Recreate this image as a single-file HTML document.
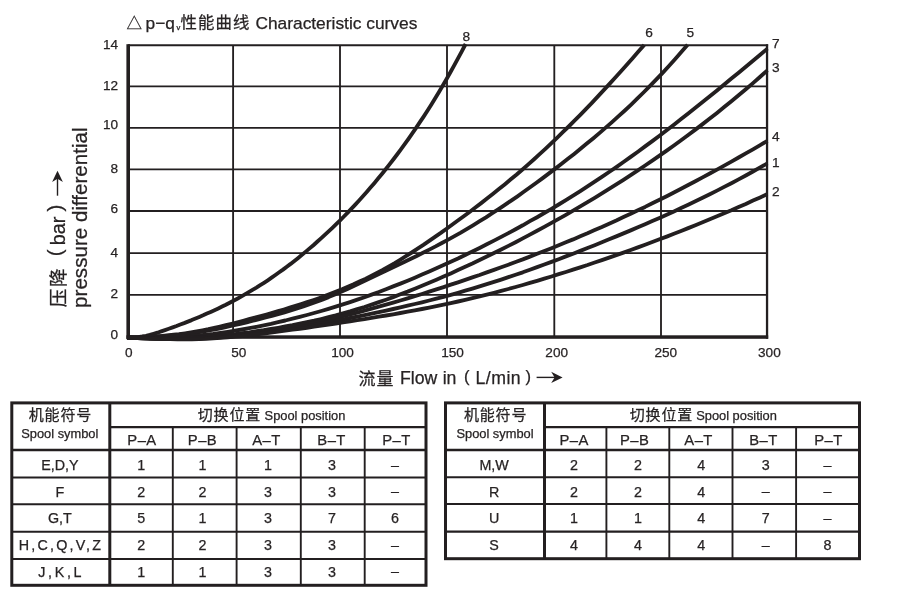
<!DOCTYPE html>
<html lang="zh"><head><meta charset="utf-8"><title>Characteristic curves</title>
<style>html,body{margin:0;padding:0;background:#fff;}body{width:900px;height:594px;overflow:hidden;}svg{display:block;will-change:transform;}text{font-family:"Liberation Sans","Noto Sans CJK SC",sans-serif;fill:#272324;stroke:#272324;stroke-width:.25px;}.cjk{font-family:"Liberation Sans","Noto Sans CJK SC",sans-serif;}</style></head><body>
<svg width="900" height="594" viewBox="0 0 900 594">
<rect width="900" height="594" fill="#fff"/>
<g stroke="#231f20" stroke-width="1.85" fill="none">
<line x1="233.1" y1="45" x2="233.1" y2="337"/>
<line x1="340.0" y1="45" x2="340.0" y2="337"/>
<line x1="447.0" y1="45" x2="447.0" y2="337"/>
<line x1="554.3" y1="45" x2="554.3" y2="337"/>
<line x1="661.0" y1="45" x2="661.0" y2="337"/>
<line x1="128" y1="86.3" x2="767" y2="86.3"/>
<line x1="128" y1="127.85" x2="767" y2="127.85"/>
<line x1="128" y1="169.3" x2="767" y2="169.3"/>
<line x1="128" y1="211.0" x2="767" y2="211.0"/>
<line x1="128" y1="253.1" x2="767" y2="253.1"/>
<line x1="128" y1="294.9" x2="767" y2="294.9"/>
<line x1="128" y1="45.2" x2="768.1" y2="45.2"/>
<line x1="767.05" y1="44.2" x2="767.05" y2="338.8" stroke-width="2.3"/>
</g>
<rect x="126.4" y="44.2" width="3.6" height="294.6" fill="#231f20"/>
<rect x="126.4" y="335.3" width="641.8" height="3.5" fill="#231f20"/>
<g stroke="#231f20" stroke-width="3.85" fill="none" stroke-linejoin="round">
<path d="M127.0,337.6 L130.8,337.7 L134.6,337.5 L138.4,337.1 L142.2,336.5 L146.0,335.8 L149.8,334.9 L153.6,333.8 L157.4,332.7 L161.2,331.4 L165.0,330.1 L168.8,328.8 L172.7,327.4 L176.5,326.0 L180.3,324.5 L184.1,323.1 L187.9,321.6 L191.7,320.1 L195.5,318.5 L199.3,316.9 L203.1,315.3 L206.9,313.6 L210.7,311.9 L214.5,310.2 L218.3,308.4 L222.1,306.5 L225.9,304.7 L229.7,302.7 L233.5,300.7 L237.3,298.7 L241.1,296.6 L244.9,294.4 L248.7,292.2 L252.5,289.9 L256.4,287.6 L260.2,285.2 L264.0,282.8 L267.8,280.3 L271.6,277.7 L275.4,275.0 L279.2,272.3 L283.0,269.6 L286.8,266.7 L290.6,263.9 L294.4,260.9 L298.2,257.9 L302.0,254.8 L305.8,251.6 L309.6,248.4 L313.4,245.2 L317.2,241.8 L321.0,238.4 L324.8,234.9 L328.6,231.4 L332.4,227.8 L336.2,224.1 L340.1,220.4 L343.9,216.5 L347.7,212.7 L351.5,208.7 L355.3,204.6 L359.1,200.5 L362.9,196.3 L366.7,192.0 L370.5,187.6 L374.3,183.2 L378.1,178.6 L381.9,174.0 L385.7,169.2 L389.5,164.4 L393.3,159.5 L397.1,154.5 L400.9,149.4 L404.7,144.2 L408.5,138.8 L412.3,133.4 L416.1,127.8 L419.9,122.2 L423.8,116.4 L427.6,110.5 L431.4,104.5 L435.2,98.3 L439.0,92.0 L442.8,85.6 L446.6,79.0 L450.4,72.3 L454.2,65.4 L458.0,58.4 L461.8,51.3 L465.6,44.0"/>
<path d="M127.0,337.6 L132.8,337.5 L138.6,337.3 L144.4,337.0 L150.2,336.7 L156.1,336.3 L161.9,335.9 L167.7,335.3 L173.5,334.7 L179.3,334.1 L185.1,333.3 L190.9,332.4 L196.7,331.4 L202.5,330.3 L208.4,329.2 L214.2,327.9 L220.0,326.6 L225.8,325.2 L231.6,323.8 L237.4,322.3 L243.2,320.8 L249.0,319.2 L254.8,317.7 L260.7,316.1 L266.5,314.5 L272.3,312.9 L278.1,311.2 L283.9,309.5 L289.7,307.7 L295.5,305.9 L301.3,304.1 L307.1,302.2 L313.0,300.2 L318.8,298.2 L324.6,296.1 L330.4,293.9 L336.2,291.6 L342.0,289.3 L347.8,286.8 L353.6,284.3 L359.4,281.6 L365.3,278.9 L371.1,276.0 L376.9,273.0 L382.7,269.9 L388.5,266.6 L394.3,263.3 L400.1,259.8 L405.9,256.2 L411.8,252.5 L417.6,248.7 L423.4,244.9 L429.2,240.9 L435.0,236.9 L440.8,232.9 L446.6,228.7 L452.4,224.5 L458.2,220.3 L464.1,216.0 L469.9,211.7 L475.7,207.3 L481.5,202.9 L487.3,198.3 L493.1,193.8 L498.9,189.1 L504.7,184.4 L510.5,179.5 L516.4,174.7 L522.2,169.7 L528.0,164.6 L533.8,159.5 L539.6,154.2 L545.4,148.9 L551.2,143.4 L557.0,137.9 L562.8,132.2 L568.7,126.5 L574.5,120.7 L580.3,114.8 L586.1,108.8 L591.9,102.8 L597.7,96.6 L603.5,90.4 L609.3,84.1 L615.1,77.8 L621.0,71.3 L626.8,64.8 L632.6,58.2 L638.4,51.6 L644.2,44.9"/>
<path d="M127.0,337.6 L133.3,337.5 L139.6,337.3 L145.9,337.0 L152.2,336.7 L158.5,336.4 L164.8,336.0 L171.1,335.5 L177.4,334.9 L183.7,334.2 L190.0,333.5 L196.3,332.6 L202.6,331.6 L208.9,330.4 L215.2,329.3 L221.5,328.0 L227.8,326.6 L234.1,325.2 L240.4,323.8 L246.7,322.3 L253.0,320.7 L259.3,319.2 L265.6,317.5 L271.9,315.9 L278.2,314.2 L284.5,312.4 L290.8,310.5 L297.1,308.5 L303.4,306.5 L309.7,304.3 L316.0,302.0 L322.3,299.6 L328.6,297.1 L334.9,294.4 L341.2,291.7 L347.5,288.9 L353.8,286.0 L360.1,283.0 L366.4,280.0 L372.7,277.0 L379.0,274.0 L385.3,271.0 L391.6,268.0 L397.9,265.0 L404.2,262.0 L410.4,259.0 L416.7,255.9 L423.0,252.8 L429.3,249.6 L435.6,246.4 L441.9,243.0 L448.2,239.6 L454.5,236.1 L460.8,232.6 L467.1,228.9 L473.4,225.1 L479.7,221.2 L486.0,217.3 L492.3,213.2 L498.6,209.1 L504.9,204.9 L511.2,200.6 L517.5,196.3 L523.8,191.8 L530.1,187.3 L536.4,182.8 L542.7,178.1 L549.0,173.4 L555.3,168.6 L561.6,163.8 L567.9,158.8 L574.2,153.9 L580.5,148.8 L586.8,143.6 L593.1,138.4 L599.4,133.1 L605.7,127.6 L612.0,122.1 L618.3,116.4 L624.6,110.7 L630.9,104.8 L637.2,98.7 L643.5,92.5 L649.8,86.2 L656.1,79.7 L662.4,73.1 L668.7,66.3 L675.0,59.3 L681.3,52.1 L687.6,44.8"/>
<path d="M127.0,337.6 L134.2,337.6 L141.4,337.6 L148.6,337.5 L155.8,337.4 L163.0,337.3 L170.2,337.1 L177.4,336.8 L184.6,336.4 L191.8,335.9 L199.0,335.3 L206.2,334.6 L213.3,333.8 L220.5,332.8 L227.7,331.8 L234.9,330.7 L242.1,329.5 L249.3,328.2 L256.5,326.8 L263.7,325.3 L270.9,323.8 L278.1,322.1 L285.3,320.5 L292.5,318.7 L299.7,316.9 L306.9,315.0 L314.1,313.0 L321.3,311.0 L328.5,308.9 L335.7,306.7 L342.9,304.4 L350.1,302.1 L357.3,299.7 L364.5,297.2 L371.6,294.6 L378.8,292.0 L386.0,289.2 L393.2,286.4 L400.4,283.6 L407.6,280.7 L414.8,277.7 L422.0,274.6 L429.2,271.5 L436.4,268.3 L443.6,265.0 L450.8,261.7 L458.0,258.4 L465.2,254.9 L472.4,251.4 L479.6,247.9 L486.8,244.3 L494.0,240.6 L501.2,236.9 L508.4,233.1 L515.6,229.2 L522.8,225.3 L529.9,221.2 L537.1,217.2 L544.3,213.0 L551.5,208.8 L558.7,204.5 L565.9,200.1 L573.1,195.6 L580.3,191.1 L587.5,186.4 L594.7,181.7 L601.9,176.9 L609.1,172.0 L616.3,167.1 L623.5,162.0 L630.7,156.9 L637.9,151.7 L645.1,146.4 L652.3,141.1 L659.5,135.7 L666.7,130.2 L673.9,124.7 L681.1,119.1 L688.2,113.5 L695.4,107.8 L702.6,102.0 L709.8,96.2 L717.0,90.4 L724.2,84.5 L731.4,78.6 L738.6,72.7 L745.8,66.7 L753.0,60.7 L760.2,54.7 L767.4,48.6"/>
<path d="M127.0,337.6 L134.2,337.8 L141.4,338.0 L148.6,338.2 L155.8,338.2 L163.0,338.3 L170.2,338.2 L177.4,338.1 L184.6,337.9 L191.8,337.6 L199.0,337.2 L206.2,336.8 L213.3,336.2 L220.5,335.6 L227.7,334.9 L234.9,334.1 L242.1,333.2 L249.3,332.3 L256.5,331.2 L263.7,330.2 L270.9,329.0 L278.1,327.8 L285.3,326.5 L292.5,325.2 L299.7,323.7 L306.9,322.2 L314.1,320.7 L321.3,319.0 L328.5,317.2 L335.7,315.4 L342.9,313.4 L350.1,311.4 L357.3,309.2 L364.5,307.0 L371.6,304.6 L378.8,302.2 L386.0,299.7 L393.2,297.1 L400.4,294.3 L407.6,291.6 L414.8,288.7 L422.0,285.8 L429.2,282.8 L436.4,279.7 L443.6,276.6 L450.8,273.4 L458.0,270.1 L465.2,266.8 L472.4,263.5 L479.6,260.0 L486.8,256.6 L494.0,253.1 L501.2,249.5 L508.4,245.9 L515.6,242.2 L522.8,238.4 L529.9,234.6 L537.1,230.8 L544.3,226.9 L551.5,222.9 L558.7,218.9 L565.9,214.8 L573.1,210.6 L580.3,206.4 L587.5,202.1 L594.7,197.8 L601.9,193.4 L609.1,188.9 L616.3,184.4 L623.5,179.8 L630.7,175.1 L637.9,170.4 L645.1,165.5 L652.3,160.7 L659.5,155.7 L666.7,150.6 L673.9,145.5 L681.1,140.3 L688.2,135.0 L695.4,129.6 L702.6,124.1 L709.8,118.5 L717.0,112.9 L724.2,107.1 L731.4,101.3 L738.6,95.3 L745.8,89.2 L753.0,83.1 L760.2,76.8 L767.4,70.4"/>
<path d="M127.0,337.5 L134.2,337.9 L141.4,338.2 L148.6,338.4 L155.8,338.5 L163.0,338.6 L170.2,338.5 L177.4,338.4 L184.6,338.3 L191.8,338.0 L199.0,337.7 L206.2,337.4 L213.3,336.9 L220.5,336.4 L227.7,335.8 L234.9,335.2 L242.1,334.5 L249.3,333.7 L256.5,332.8 L263.7,331.8 L270.9,330.8 L278.1,329.7 L285.3,328.5 L292.5,327.2 L299.7,325.8 L306.9,324.4 L314.1,322.9 L321.3,321.3 L328.5,319.7 L335.7,318.0 L342.9,316.2 L350.1,314.4 L357.3,312.6 L364.5,310.7 L371.6,308.7 L378.8,306.7 L386.0,304.7 L393.2,302.6 L400.4,300.5 L407.6,298.4 L414.8,296.2 L422.0,294.0 L429.2,291.7 L436.4,289.4 L443.6,287.1 L450.8,284.7 L458.0,282.3 L465.2,279.9 L472.4,277.4 L479.6,275.0 L486.8,272.4 L494.0,269.9 L501.2,267.3 L508.4,264.7 L515.6,262.0 L522.8,259.4 L529.9,256.6 L537.1,253.8 L544.3,251.0 L551.5,248.2 L558.7,245.3 L565.9,242.3 L573.1,239.4 L580.3,236.3 L587.5,233.3 L594.7,230.1 L601.9,227.0 L609.1,223.7 L616.3,220.5 L623.5,217.1 L630.7,213.8 L637.9,210.3 L645.1,206.9 L652.3,203.3 L659.5,199.8 L666.7,196.2 L673.9,192.5 L681.1,188.8 L688.2,185.0 L695.4,181.2 L702.6,177.4 L709.8,173.5 L717.0,169.6 L724.2,165.6 L731.4,161.6 L738.6,157.5 L745.8,153.4 L753.0,149.3 L760.2,145.1 L767.4,140.8"/>
<path d="M127.0,337.5 L134.2,337.9 L141.4,338.3 L148.6,338.6 L155.8,338.8 L163.0,338.9 L170.2,339.0 L177.4,339.0 L184.6,338.9 L191.8,338.8 L199.0,338.5 L206.2,338.2 L213.3,337.8 L220.5,337.3 L227.7,336.7 L234.9,336.0 L242.1,335.3 L249.3,334.5 L256.5,333.7 L263.7,332.8 L270.9,331.8 L278.1,330.8 L285.3,329.7 L292.5,328.5 L299.7,327.3 L306.9,326.1 L314.1,324.8 L321.3,323.5 L328.5,322.2 L335.7,320.8 L342.9,319.4 L350.1,318.0 L357.3,316.6 L364.5,315.1 L371.6,313.6 L378.8,312.1 L386.0,310.6 L393.2,309.0 L400.4,307.4 L407.6,305.7 L414.8,304.0 L422.0,302.3 L429.2,300.5 L436.4,298.6 L443.6,296.8 L450.8,294.8 L458.0,292.8 L465.2,290.7 L472.4,288.6 L479.6,286.4 L486.8,284.2 L494.0,281.9 L501.2,279.6 L508.4,277.2 L515.6,274.7 L522.8,272.3 L529.9,269.7 L537.1,267.1 L544.3,264.5 L551.5,261.9 L558.7,259.2 L565.9,256.4 L573.1,253.7 L580.3,250.9 L587.5,248.0 L594.7,245.2 L601.9,242.3 L609.1,239.3 L616.3,236.4 L623.5,233.4 L630.7,230.4 L637.9,227.3 L645.1,224.2 L652.3,221.1 L659.5,217.9 L666.7,214.7 L673.9,211.4 L681.1,208.1 L688.2,204.7 L695.4,201.3 L702.6,197.8 L709.8,194.2 L717.0,190.6 L724.2,186.9 L731.4,183.2 L738.6,179.4 L745.8,175.5 L753.0,171.5 L760.2,167.4 L767.4,163.3"/>
<path d="M127.0,337.5 L134.2,337.9 L141.4,338.3 L148.6,338.6 L155.8,338.8 L163.0,339.1 L170.2,339.2 L177.4,339.3 L184.6,339.3 L191.8,339.3 L199.0,339.1 L206.2,338.8 L213.3,338.4 L220.5,337.9 L227.7,337.3 L234.9,336.7 L242.1,336.0 L249.3,335.2 L256.5,334.4 L263.7,333.5 L270.9,332.6 L278.1,331.7 L285.3,330.7 L292.5,329.7 L299.7,328.8 L306.9,327.8 L314.1,326.7 L321.3,325.7 L328.5,324.6 L335.7,323.5 L342.9,322.4 L350.1,321.3 L357.3,320.2 L364.5,319.1 L371.6,317.9 L378.8,316.7 L386.0,315.5 L393.2,314.3 L400.4,313.0 L407.6,311.7 L414.8,310.4 L422.0,309.0 L429.2,307.6 L436.4,306.1 L443.6,304.6 L450.8,303.1 L458.0,301.5 L465.2,299.9 L472.4,298.2 L479.6,296.4 L486.8,294.6 L494.0,292.8 L501.2,290.9 L508.4,289.0 L515.6,287.0 L522.8,285.0 L529.9,282.9 L537.1,280.8 L544.3,278.7 L551.5,276.5 L558.7,274.2 L565.9,272.0 L573.1,269.7 L580.3,267.3 L587.5,265.0 L594.7,262.5 L601.9,260.1 L609.1,257.6 L616.3,255.1 L623.5,252.6 L630.7,250.0 L637.9,247.4 L645.1,244.7 L652.3,242.0 L659.5,239.3 L666.7,236.6 L673.9,233.8 L681.1,231.0 L688.2,228.1 L695.4,225.2 L702.6,222.3 L709.8,219.3 L717.0,216.3 L724.2,213.2 L731.4,210.2 L738.6,207.0 L745.8,203.9 L753.0,200.6 L760.2,197.4 L767.4,194.1"/>
</g>
<g font-size="13.6" text-anchor="end">
<text x="118.0" y="49.15">14</text>
<text x="118.0" y="90.25">12</text>
<text x="118.0" y="128.75">10</text>
<text x="118.0" y="172.55">8</text>
<text x="118.0" y="212.95">6</text>
<text x="118.0" y="257.25">4</text>
<text x="118.0" y="297.65">2</text>
<text x="118.0" y="339.05">0</text>
</g>
<g font-size="13.6" text-anchor="middle">
<text x="128.8" y="357.2">0</text>
<text x="238.8" y="357.2">50</text>
<text x="342.5" y="357.2">100</text>
<text x="452.5" y="357.2">150</text>
<text x="556.7" y="357.2">200</text>
<text x="665.8" y="357.2">250</text>
<text x="769.4" y="357.2">300</text>
</g>
<g font-size="13.7" text-anchor="middle">
<text x="466.3" y="40.5">8</text>
<text x="649" y="37">6</text>
<text x="690.3" y="37">5</text>
<text x="775.8" y="48">7</text>
<text x="775.9" y="71.6">3</text>
<text x="775.9" y="140.5">4</text>
<text x="775.9" y="166.7">1</text>
<text x="775.9" y="195.8">2</text>
</g>
<text x="126.6" y="28.6" font-size="15.5" class="cjk" stroke="#272324" stroke-width="0.85">△</text>
<text x="145.6" y="28.5" font-size="17.3">p−q</text>
<text x="176.4" y="29.8" font-size="7.6">v</text>
<text x="180.6" y="28.2" font-size="16.4" class="cjk" letter-spacing="1.1">性能曲线</text>
<text x="255.4" y="28.5" font-size="17.35">Characteristic curves</text>
<text x="358.6" y="384.5" font-size="17" class="cjk" letter-spacing="1.0">流量</text>
<text x="400.0" y="383.8" font-size="17.7" word-spacing="0.4">Flow in</text>
<text x="464.0" y="381.9" font-size="16.6">(</text>
<text x="475.4" y="383.8" font-size="17.7" letter-spacing="0.5">L/min</text>
<text x="525.6" y="381.9" font-size="16.6">)</text>
<line x1="536.6" y1="377.4" x2="556" y2="377.4" stroke="#231f20" stroke-width="1.4"/>
<path d="M562.6,377.4 L551.2,371.8 L554.6,377.4 L551.2,383.0 Z" fill="#231f20"/>
<g transform="translate(65.3,307.2) rotate(-90)">
<text x="0" y="0" font-size="18.6" class="cjk" letter-spacing="1.7">压降</text>
<text x="50.9" y="-3.0" font-size="20.6">(</text>
<text x="62.0" y="-0.5" font-size="19.8">bar</text>
<text x="95.6" y="-3.0" font-size="20.6">)</text>
<line x1="111.5" y1="-7.8" x2="130" y2="-7.8" stroke="#231f20" stroke-width="1.4"/>
<path d="M136.4,-7.8 L125.2,-13.2 L128.4,-7.8 L125.2,-2.4 Z" fill="#231f20"/>
</g>
<g transform="translate(87.1,307.9) rotate(-90)">
<text x="0" y="0" font-size="20.6">pressure differential</text>
</g>
<g stroke="#231f20" fill="none">
<rect x="11.8" y="402.9" width="414.2" height="182.39999999999998" stroke-width="3"/>
<line x1="109.8" y1="402.9" x2="109.8" y2="585.3" stroke-width="3"/>
<line x1="172.8" y1="427.2" x2="172.8" y2="585.3" stroke-width="1.9"/>
<line x1="236.6" y1="427.2" x2="236.6" y2="585.3" stroke-width="1.9"/>
<line x1="300.8" y1="427.2" x2="300.8" y2="585.3" stroke-width="1.9"/>
<line x1="364.7" y1="427.2" x2="364.7" y2="585.3" stroke-width="1.9"/>
<line x1="109.8" y1="427.2" x2="426.0" y2="427.2" stroke-width="2.3"/>
<line x1="11.8" y1="449.9" x2="426.0" y2="449.9" stroke-width="2.5"/>
<line x1="11.8" y1="477.5" x2="426.0" y2="477.5" stroke-width="2.1"/>
<line x1="11.8" y1="504.2" x2="426.0" y2="504.2" stroke-width="2.1"/>
<line x1="11.8" y1="531.8" x2="426.0" y2="531.8" stroke-width="2.1"/>
<line x1="11.8" y1="559.0" x2="426.0" y2="559.0" stroke-width="2.1"/>
</g>
<text x="60.4" y="420.0" font-size="15" class="cjk" letter-spacing="0.8" text-anchor="middle">机能符号</text>
<text x="59.8" y="437.7" font-size="12.85" text-anchor="middle">Spool symbol</text>
<text x="197.8" y="420.0" font-size="15" class="cjk" letter-spacing="0.8">切换位置</text>
<text x="264.6" y="419.8" font-size="12.85">Spool position</text>
<text x="142.0" y="444.8" font-size="14.8" text-anchor="middle" letter-spacing="0.45">P–A</text>
<text x="202.5" y="444.8" font-size="14.8" text-anchor="middle" letter-spacing="0.45">P–B</text>
<text x="266.4" y="444.8" font-size="14.8" text-anchor="middle" letter-spacing="0.45">A–T</text>
<text x="331.6" y="444.8" font-size="14.8" text-anchor="middle" letter-spacing="0.45">B–T</text>
<text x="396.5" y="444.8" font-size="14.8" text-anchor="middle" letter-spacing="0.45">P–T</text>
<text x="59.9" y="470.2" font-size="14.3" text-anchor="middle">E,D,Y</text>
<text x="141.3" y="470.2" font-size="14.3" text-anchor="middle">1</text>
<text x="202.5" y="470.2" font-size="14.3" text-anchor="middle">1</text>
<text x="268.0" y="470.2" font-size="14.3" text-anchor="middle">1</text>
<text x="332.0" y="470.2" font-size="14.3" text-anchor="middle">3</text>
<text x="395.0" y="469.8" font-size="14.3" text-anchor="middle">–</text>
<text x="59.9" y="496.7" font-size="14.3" text-anchor="middle">F</text>
<text x="141.3" y="496.7" font-size="14.3" text-anchor="middle">2</text>
<text x="202.5" y="496.7" font-size="14.3" text-anchor="middle">2</text>
<text x="268.0" y="496.7" font-size="14.3" text-anchor="middle">3</text>
<text x="332.0" y="496.7" font-size="14.3" text-anchor="middle">3</text>
<text x="395.0" y="496.3" font-size="14.3" text-anchor="middle">–</text>
<text x="59.9" y="523.1" font-size="14.3" text-anchor="middle">G,T</text>
<text x="141.3" y="523.1" font-size="14.3" text-anchor="middle">5</text>
<text x="202.5" y="523.1" font-size="14.3" text-anchor="middle">1</text>
<text x="268.0" y="523.1" font-size="14.3" text-anchor="middle">3</text>
<text x="332.0" y="523.1" font-size="14.3" text-anchor="middle">7</text>
<text x="395.0" y="523.1" font-size="14.3" text-anchor="middle">6</text>
<text x="61.0" y="550.2" font-size="14.3" text-anchor="middle" letter-spacing="2.2">H,C,Q,V,Z</text>
<text x="141.3" y="550.2" font-size="14.3" text-anchor="middle">2</text>
<text x="202.5" y="550.2" font-size="14.3" text-anchor="middle">2</text>
<text x="268.0" y="550.2" font-size="14.3" text-anchor="middle">3</text>
<text x="332.0" y="550.2" font-size="14.3" text-anchor="middle">3</text>
<text x="395.0" y="549.8" font-size="14.3" text-anchor="middle">–</text>
<text x="61.2" y="576.5" font-size="14.3" text-anchor="middle" letter-spacing="2.7">J,K,L</text>
<text x="141.3" y="576.5" font-size="14.3" text-anchor="middle">1</text>
<text x="202.5" y="576.5" font-size="14.3" text-anchor="middle">1</text>
<text x="268.0" y="576.5" font-size="14.3" text-anchor="middle">3</text>
<text x="332.0" y="576.5" font-size="14.3" text-anchor="middle">3</text>
<text x="395.0" y="576.1" font-size="14.3" text-anchor="middle">–</text>
<g stroke="#231f20" fill="none">
<rect x="445.5" y="402.9" width="414.0" height="155.80000000000007" stroke-width="3"/>
<line x1="544.5" y1="402.9" x2="544.5" y2="558.7" stroke-width="3"/>
<line x1="606.4" y1="427.2" x2="606.4" y2="558.7" stroke-width="1.9"/>
<line x1="669.3" y1="427.2" x2="669.3" y2="558.7" stroke-width="1.9"/>
<line x1="732.5" y1="427.2" x2="732.5" y2="558.7" stroke-width="1.9"/>
<line x1="796.1" y1="427.2" x2="796.1" y2="558.7" stroke-width="1.9"/>
<line x1="544.5" y1="427.2" x2="859.5" y2="427.2" stroke-width="2.3"/>
<line x1="445.5" y1="449.9" x2="859.5" y2="449.9" stroke-width="2.5"/>
<line x1="445.5" y1="477.3" x2="859.5" y2="477.3" stroke-width="2.1"/>
<line x1="445.5" y1="504.0" x2="859.5" y2="504.0" stroke-width="2.1"/>
<line x1="445.5" y1="531.6" x2="859.5" y2="531.6" stroke-width="2.1"/>
</g>
<text x="495.6" y="420.0" font-size="15" class="cjk" letter-spacing="0.8" text-anchor="middle">机能符号</text>
<text x="495.0" y="437.7" font-size="12.85" text-anchor="middle">Spool symbol</text>
<text x="629.8" y="420.0" font-size="15" class="cjk" letter-spacing="0.8">切换位置</text>
<text x="696.2" y="419.8" font-size="12.85">Spool position</text>
<text x="574.2" y="444.8" font-size="14.8" text-anchor="middle" letter-spacing="0.45">P–A</text>
<text x="634.6" y="444.8" font-size="14.8" text-anchor="middle" letter-spacing="0.45">P–B</text>
<text x="698.6" y="444.8" font-size="14.8" text-anchor="middle" letter-spacing="0.45">A–T</text>
<text x="763.4" y="444.8" font-size="14.8" text-anchor="middle" letter-spacing="0.45">B–T</text>
<text x="828.4" y="444.8" font-size="14.8" text-anchor="middle" letter-spacing="0.45">P–T</text>
<text x="494.1" y="470.2" font-size="14.3" text-anchor="middle">M,W</text>
<text x="574.1" y="470.2" font-size="14.3" text-anchor="middle">2</text>
<text x="638.1" y="470.2" font-size="14.3" text-anchor="middle">2</text>
<text x="701.2" y="470.2" font-size="14.3" text-anchor="middle">4</text>
<text x="765.7" y="470.2" font-size="14.3" text-anchor="middle">3</text>
<text x="827.6" y="469.8" font-size="14.3" text-anchor="middle">–</text>
<text x="494.1" y="496.7" font-size="14.3" text-anchor="middle">R</text>
<text x="574.1" y="496.7" font-size="14.3" text-anchor="middle">2</text>
<text x="638.1" y="496.7" font-size="14.3" text-anchor="middle">2</text>
<text x="701.2" y="496.7" font-size="14.3" text-anchor="middle">4</text>
<text x="765.7" y="496.3" font-size="14.3" text-anchor="middle">–</text>
<text x="827.6" y="496.3" font-size="14.3" text-anchor="middle">–</text>
<text x="494.1" y="523.1" font-size="14.3" text-anchor="middle">U</text>
<text x="574.1" y="523.1" font-size="14.3" text-anchor="middle">1</text>
<text x="638.1" y="523.1" font-size="14.3" text-anchor="middle">1</text>
<text x="701.2" y="523.1" font-size="14.3" text-anchor="middle">4</text>
<text x="765.7" y="523.1" font-size="14.3" text-anchor="middle">7</text>
<text x="827.6" y="522.7" font-size="14.3" text-anchor="middle">–</text>
<text x="494.1" y="550.2" font-size="14.3" text-anchor="middle">S</text>
<text x="574.1" y="550.2" font-size="14.3" text-anchor="middle">4</text>
<text x="638.1" y="550.2" font-size="14.3" text-anchor="middle">4</text>
<text x="701.2" y="550.2" font-size="14.3" text-anchor="middle">4</text>
<text x="765.7" y="549.8" font-size="14.3" text-anchor="middle">–</text>
<text x="827.6" y="550.2" font-size="14.3" text-anchor="middle">8</text>
</svg></body></html>
